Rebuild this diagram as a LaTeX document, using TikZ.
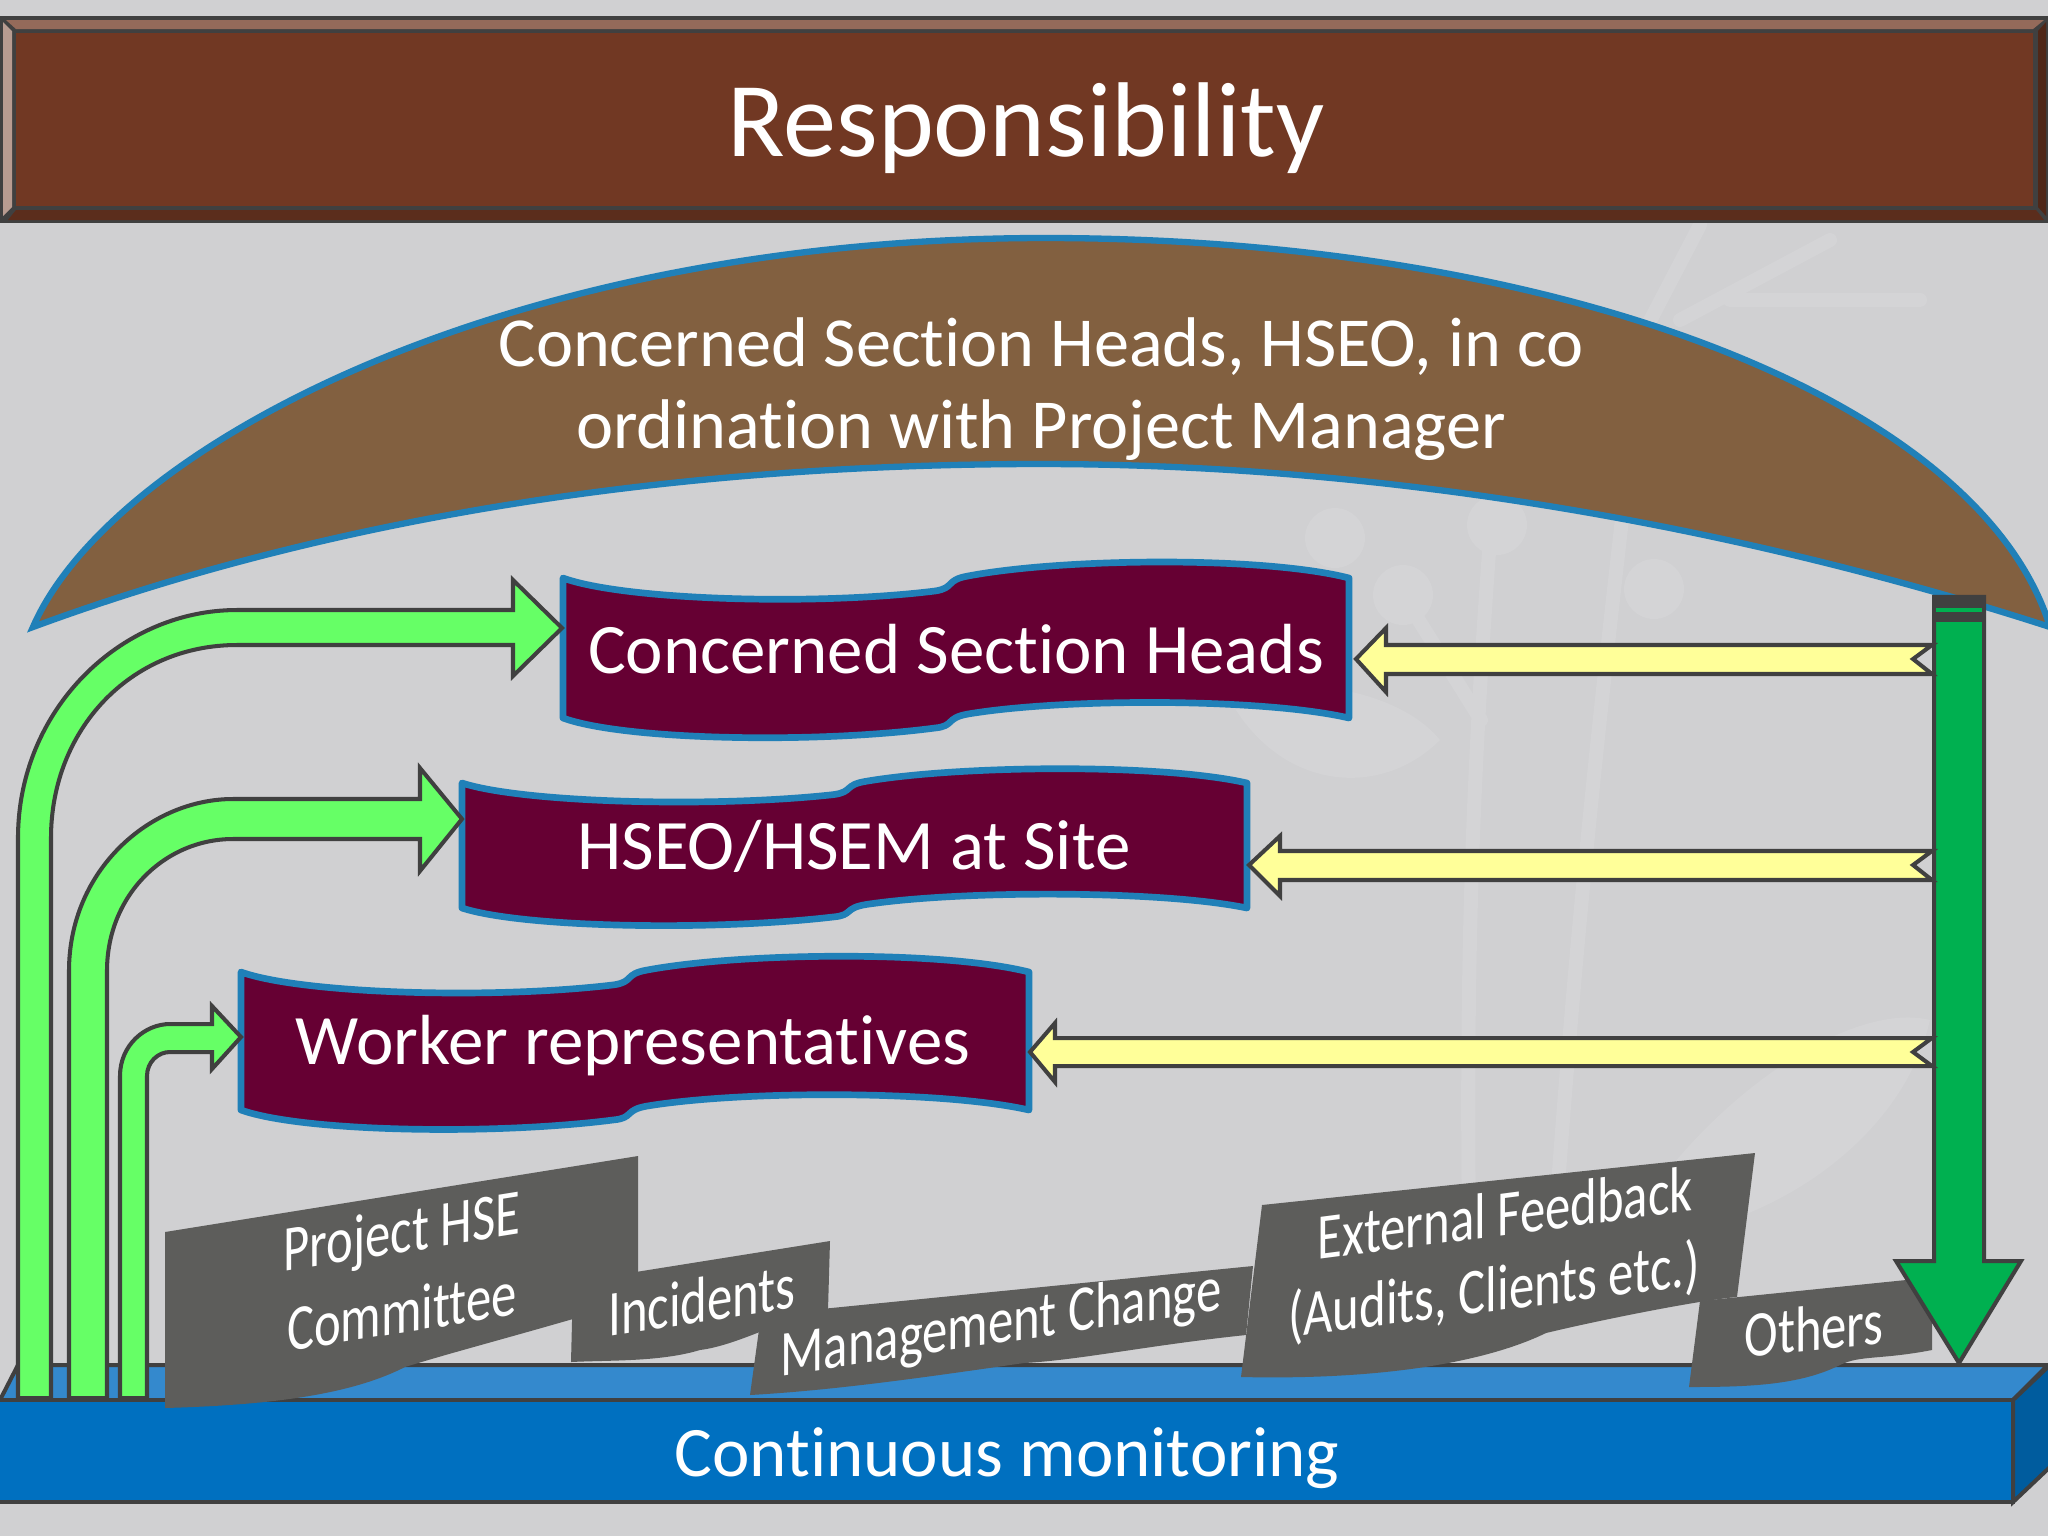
\documentclass[tikz,border=0pt]{standalone}
\usepackage{fontspec}
\setmainfont{Carlito}[Ligatures={NoCommon}]
\usetikzlibrary{positioning,calc}
\definecolor{canvas}{HTML}{D0D0D2}
\definecolor{canvaslight}{HTML}{D4D4D6}
\definecolor{edge}{HTML}{404040}
\definecolor{titlefill}{HTML}{713823}
\definecolor{arcfill}{HTML}{826040}
\definecolor{arcline}{HTML}{2080B8}
\definecolor{boxfill}{HTML}{660033}
\definecolor{limefill}{HTML}{66FF66}
\definecolor{paleyellow}{HTML}{FFFF99}
\definecolor{darkgreen}{HTML}{00B050}
\definecolor{tagfill}{HTML}{5D5D5B}
\tikzset{
  bigtext/.style={text=white,font=\fontsize{40.4}{47}\selectfont,align=center,inner sep=0pt},
  tagtext/.style={text=white,font=\fontsize{37}{40}\selectfont,align=center,inner sep=0pt,transform shape},
  tag/.style={fill=tagfill},
  stem/.style={draw=canvaslight,line width=8pt,line cap=round},
  limearrow/.style={draw=edge,fill=limefill,line width=2.3pt,line join=miter},
  palearrow/.style={draw=edge,fill=paleyellow,line width=2.3pt,line join=miter},
  wavebox/.style={draw=arcline,fill=boxfill,line width=3.8pt,line join=round},
}
% box with the wavy top and bottom edges: name, x, y, width, height, text centre, text
\newcommand{\wavy}[7]{
  \begin{scope}[shift={(#2,#3)},xscale=#4/786,yscale=#5/140]
    \draw[wavebox] (0,0) .. controls (60,22) and (250,28) .. (372,13)
      .. controls (392,10) and (382,2) .. (405,-2)
      .. controls (500,-20) and (700,-22) .. (786,0) -- (786,140)
      .. controls (700,120) and (500,120) .. (405,136)
      .. controls (382,140) and (392,148) .. (372,150)
      .. controls (250,166) and (60,162) .. (0,140) -- cycle;
  \end{scope}
  \node[bigtext] (#1) at (#6) {#7};
}
% slanted text on the grey tags: name, x, y, slant, squeeze, text
\newcommand{\slanted}[6]{
  \begin{scope}[shift={(#2,#3)},yslant=#4,xscale=#5]
    \node[tagtext] (#1) at (0,0) {#6};
  \end{scope}
}
\begin{document}
\begin{tikzpicture}[x=0.02cm,y=-0.02cm]
  \useasboundingbox (0,0) rectangle (2048,1536);
  \fill[canvas] (0,0) rectangle (2048,1536);
  % faint plant of the backdrop
  \draw[stem] (1470,1300) .. controls (1465,1000) and (1470,800) .. (1492,512);
  \draw[stem] (1550,1300) .. controls (1570,1000) and (1590,800) .. (1622,519);
  \draw[stem] (1481,720) -- (1403,595);
  \draw[stem] (1640,340) -- (1700,225);
  \draw[stem] (1680,320) -- (1830,240);
  \draw[stem] (1730,300) -- (1920,300);
  \foreach \blobx/\bloby in {1335/538,1497/525,1403/595,1654/589}
    \fill[canvaslight] (\blobx,\bloby) circle (30);
  \fill[canvaslight] (1230,700) .. controls (1290,670) and (1400,690) .. (1440,740)
    .. controls (1380,800) and (1280,790) .. (1230,700) -- cycle;
  \fill[canvaslight] (1620,1240) .. controls (1700,1100) and (1850,1000) .. (1930,1020)
    .. controls (1900,1150) and (1750,1240) .. (1620,1240) -- cycle;

  % title bar
  \fill[edge] (0,16) rectangle (2048,223);
  \fill[titlefill!75!white] (6,20) -- (2044,20) -- (2033,29) -- (16,29) -- cycle;
  \fill[titlefill!50!white] (3,22) -- (12,31) -- (12,207) -- (3,216) -- cycle;
  \fill[titlefill!80!black] (8,220) -- (2044,220) -- (2036,210) -- (16,210) -- cycle;
  \fill[titlefill!70!black] (2038,31) -- (2046,22) -- (2046,216) -- (2038,207) -- cycle;
  \fill[titlefill] (16,33) rectangle (2033,206);
  \node[text=white,font=\fontsize{60.5}{64}\selectfont,inner sep=0pt] (title) at (1026,128) {Responsibility};

  % curved banner
  \draw[draw=arcline,fill=arcfill,line width=3.6pt,line join=miter]
    (33,627) .. controls (110,450) and (500,238) .. (1045,238)
    .. controls (1560,238) and (1980,400) .. (2050,627)
    .. controls (1750,530) and (1400,464) .. (1040,464)
    .. controls (700,464) and (350,510) .. (33,627) -- cycle;
  \node[bigtext,font=\fontsize{40}{47}\selectfont] (banner) at (1041,389) {Concerned Section Heads, HSEO, in co\\ordination with Project Manager};

  % base bar
  \draw[draw=edge,fill={rgb,255:red,52;green,137;blue,205},line width=2.3pt] (0,1400) -- (18,1365) -- (2048,1365) -- (2013,1400) -- cycle;
  \draw[draw=edge,fill={rgb,255:red,0;green,92;blue,158},line width=2.3pt] (2013,1400) -- (2050,1365) -- (2050,1467) -- (2013,1502) -- cycle;
  \draw[draw=edge,fill={rgb,255:red,0;green,112;blue,192},line width=2.3pt] (-3,1400) rectangle (2013,1502);
  \node[bigtext] (monitor) at (1007,1458) {Continuous monitoring};

  % boxes
  \wavy{heads}{563}{578}{786}{140}{956,649}{Concerned Section Heads}
  \wavy{hseo}{462}{783}{785}{125}{854,846}{HSEO/HSEM at Site}
  \wavy{workers}{241}{972}{788}{138}{633,1046}{Worker representatives}
  \coordinate (headsin) at (562,628);
  \coordinate (hseoin) at (462,819);
  \coordinate (workersin) at (241,1037);

  % arrows going up from the base
  \draw[limearrow] (18,1398) -- (18,838) .. controls (18,710) and (120,610) .. (237,610)
    -- (513,610) -- (513,580) -- (headsin) -- (513,676) -- (513,645) -- (237,645)
    .. controls (130,645) and (51,730) .. (51,838) -- (51,1398) -- cycle;
  \draw[limearrow] (69,1398) -- (69,971) .. controls (69,870) and (150,799) .. (233,799)
    -- (420,799) -- (420,768) -- (hseoin) -- (420,871) -- (420,839) -- (233,839)
    .. controls (165,839) and (107,895) .. (107,971) -- (107,1398) -- cycle;
  \draw[limearrow] (120,1398) -- (120,1076) .. controls (120,1045) and (145,1024) .. (170,1024)
    -- (212,1024) -- (212,1006) -- (workersin) -- (212,1069) -- (212,1052) -- (170,1052)
    .. controls (158,1052) and (147,1062) .. (147,1076) -- (147,1398) -- cycle;

  % grey tags
  \fill[tag] (165,1232) -- (638,1156) -- (638,1300) .. controls (520,1335) and (460,1350) .. (405,1367)
    .. controls (350,1395) and (270,1405) .. (165,1408) -- cycle;
  \slanted{hse}{402}{1236}{.16}{.78}{Project HSE}
  \slanted{committee}{402}{1311}{.16}{.78}{Committee}
  \fill[tag] (573,1282) -- (830,1241) -- (828,1310) .. controls (790,1315) and (740,1345) .. (700,1350)
    .. controls (660,1362) and (610,1360) .. (571,1362) -- cycle;
  \slanted{incidents}{702}{1300}{.155}{.78}{Incidents}
  \fill[tag] (761,1315) -- (1253,1266) -- (1246,1335) .. controls (1150,1345) and (1080,1360) .. (1024,1363)
    .. controls (940,1375) and (840,1390) .. (750,1395) -- cycle;
  \slanted{change}{1001}{1326}{.15}{.78}{Management Change}
  \fill[tag] (1262,1205) -- (1755,1153) -- (1737,1297) .. controls (1700,1300) and (1600,1320) .. (1546,1333)
    .. controls (1480,1365) and (1370,1380) .. (1241,1377) -- cycle;
  \slanted{external}{1505}{1213}{.13}{.78}{External Feedback}
  \slanted{audits}{1494}{1292}{.126}{.78}{(Audits, Clients etc.)}
  \fill[tag] (1700,1301) -- (1906,1280) -- (1932,1280) -- (1932,1350) .. controls (1880,1360) and (1860,1355) .. (1840,1365)
    .. controls (1800,1385) and (1750,1387) .. (1689,1387) -- cycle;
  \slanted{others}{1814}{1328}{.1}{.78}{Others}

  % arrow going down to the base
  \coordinate (droptip) at (1959,1363);
  \draw[draw=edge,fill=darkgreen,line width=2.3pt,line join=miter] (1934,597) -- (1984,597) -- (1984,1261) -- (2021,1261)
    -- (droptip) -- (1896,1261) -- (1934,1261) -- cycle;
  \fill[edge] (1934,597) rectangle (1984,622);
  \fill[darkgreen] (1936,608) rectangle (1982,612);

  % arrows into the boxes
  \coordinate (dropa) at (1932,659);
  \coordinate (dropb) at (1932,865);
  \coordinate (dropc) at (1932,1052);
  \draw[palearrow] (dropa) ++(0,-14) -- ++(-19,14) -- ++(19,15) -- (1386,674) -- (1386,692) -- (1356,659) -- (1386,628) -- (1386,645) -- cycle;
  \draw[palearrow] (dropb) ++(0,-14) -- ++(-19,14) -- ++(19,15) -- (1280,880) -- (1280,896) -- (1249,865) -- (1280,836) -- (1280,851) -- cycle;
  \draw[palearrow] (dropc) ++(0,-14) -- ++(-19,14) -- ++(19,14) -- (1055,1066) -- (1055,1082) -- (1030,1052) -- (1055,1023) -- (1055,1038) -- cycle;
\end{tikzpicture}
\end{document}
